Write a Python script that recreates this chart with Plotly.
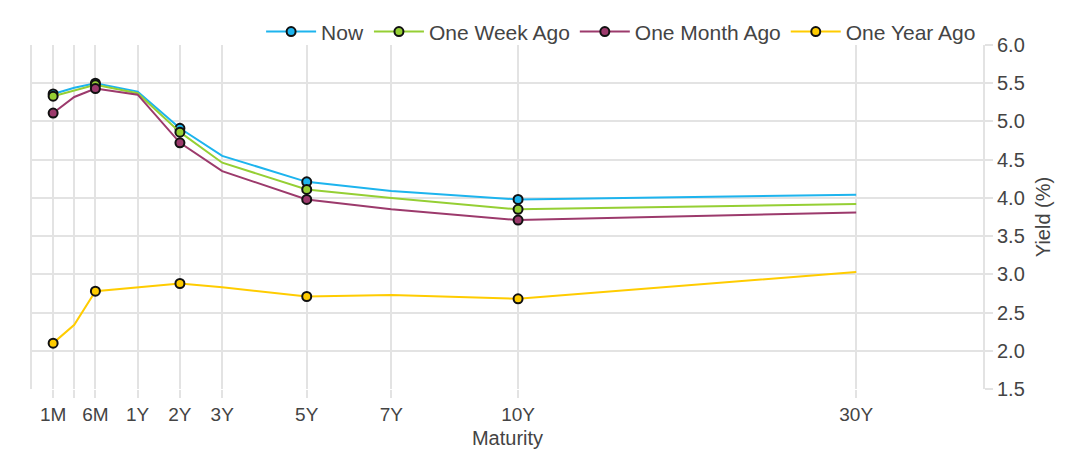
import plotly.graph_objects as go

# Maturity categories and their positions on the axis
maturities = ["1M", "3M", "6M", "1Y", "2Y", "3Y", "5Y", "7Y", "10Y", "30Y"]
positions = [0, 0.5, 1, 2, 3, 4, 6, 8, 11, 19]
tick_labels = ["1M", "", "6M", "1Y", "2Y", "3Y", "5Y", "7Y", "10Y", "30Y"]
marked = [True, False, True, False, True, False, True, False, True, False]

now = [5.36, 5.44, 5.50, 5.39, 4.91, 4.55, 4.21, 4.09, 3.98, 4.04]
one_week_ago = [5.33, 5.41, 5.48, 5.37, 4.86, 4.46, 4.11, 4.00, 3.85, 3.92]
one_month_ago = [5.11, 5.32, 5.43, 5.35, 4.72, 4.35, 3.98, 3.85, 3.71, 3.81]
one_year_ago = [2.10, 2.34, 2.78, 2.83, 2.88, 2.83, 2.71, 2.73, 2.68, 3.03]

series = [
    ("Now", now, "#1db4ee"),
    ("One Week Ago", one_week_ago, "#95cf34"),
    ("One Month Ago", one_month_ago, "#9c3a6c"),
    ("One Year Ago", one_year_ago, "#ffcc00"),
]

fig = go.Figure()
for name, vals, color in series:
    fig.add_trace(go.Scatter(
        x=positions, y=vals, name=name, mode="lines+markers",
        line=dict(color=color, width=2),
        marker=dict(
            size=9,
            color=[color if m else "rgba(0,0,0,0)" for m in marked],
            line=dict(color=["#111111" if m else "rgba(0,0,0,0)" for m in marked], width=2),
        ),
        customdata=maturities,
        hovertemplate="%{customdata}: %{y:.2f}%<extra>" + name + "</extra>",
    ))

font_color = "#444444"
grid = "#e3e3e3"
fam = "Liberation Sans, Arial, sans-serif"
fig.update_layout(
    width=1072, height=472,
    margin=dict(l=32, r=89, t=45, b=83, autoexpand=False),
    paper_bgcolor="white", plot_bgcolor="white",
    font=dict(family=fam, size=20, color=font_color),
    legend=dict(orientation="h", x=0.998, xanchor="right", y=1.038, yanchor="middle",
                font=dict(size=21, color=font_color), bgcolor="rgba(0,0,0,0)",
                traceorder="normal", itemwidth=50),
    xaxis=dict(
        range=[-0.5, 22], tickmode="array", tickvals=positions, ticktext=tick_labels,
        showgrid=True, gridcolor=grid, gridwidth=2, zeroline=False,
        ticks="outside", ticklen=8, tickcolor=grid, tickwidth=2,
        tickfont=dict(size=19, color=font_color),
        title=dict(text="Maturity", font=dict(size=20, color=font_color), standoff=7),
        showline=False,
    ),
    yaxis=dict(
        side="right", range=[1.5, 6.0], dtick=0.5, tick0=1.5, tickformat=".1f",
        showgrid=True, gridcolor=grid, gridwidth=2, zeroline=False,
        ticks="outside", ticklen=8, tickcolor=grid, tickwidth=2,
        tickfont=dict(size=20, color=font_color),
        showline=True, linecolor=grid, linewidth=2, mirror=True,
        title=dict(text="Yield (%)", font=dict(size=20, color=font_color), standoff=12),
    ),
    showlegend=True,
)

fig.write_html("out.html")
